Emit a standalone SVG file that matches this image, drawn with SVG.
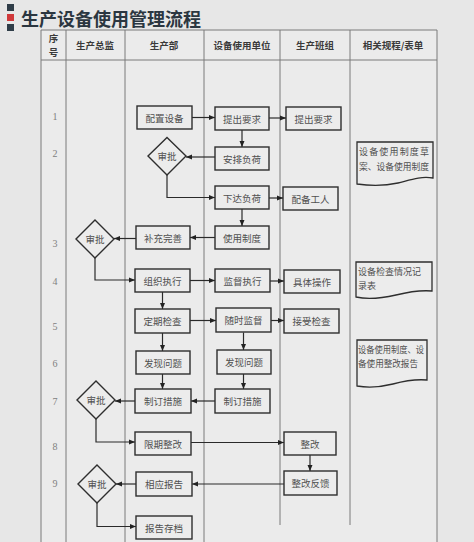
<svg xmlns="http://www.w3.org/2000/svg" width="474" height="542" viewBox="0 0 474 542">
<defs>
<marker id="ah" markerWidth="6" markerHeight="6" refX="6" refY="3" orient="auto" markerUnits="userSpaceOnUse">
<path d="M0,0.5 L6,3 L0,5.5 z" fill="#222"/>
</marker>
<style>
.box{fill:#ececec;stroke:#2e2e2e;stroke-width:1.4}
.dia{fill:#ececec;stroke:#2e2e2e;stroke-width:1.4}
.doc{fill:#ececec;stroke:#2e2e2e;stroke-width:1.3}
.t{font-family:"Noto Sans CJK SC","Noto Sans",sans-serif;font-size:9.5px;fill:#505050;text-anchor:middle;dominant-baseline:central}
.dt{font-family:"Noto Sans CJK SC","Noto Sans",sans-serif;font-size:9px;fill:#505050}
.h{font-family:"Noto Sans CJK SC","Noto Sans",sans-serif;font-size:9.5px;font-weight:bold;fill:#3a3a3a;text-anchor:middle;dominant-baseline:central}
.n{font-family:"Liberation Serif",serif;font-size:10px;fill:#808080;text-anchor:middle;dominant-baseline:central}
.grid{stroke:#7a7a7a;stroke-width:1;fill:none}
.c{fill:none;stroke:#2a2a2a;stroke-width:1.2;marker-end:url(#ah)}
</style>
</defs>
<rect x="0" y="0" width="474" height="542" fill="#e7e7e7"/>
<rect x="41" y="30" width="396" height="512" fill="#ebebeb"/>
<g id="title">
<rect x="7" y="4" width="7" height="7" fill="#2f3d48"/>
<rect x="7" y="14" width="7" height="7" fill="#d0393b"/>
<rect x="7" y="24" width="7" height="7" fill="#2f3d48"/>
<text x="21" y="18" font-family="'Noto Sans CJK SC','Noto Sans',sans-serif" font-size="18" font-weight="bold" fill="#2b3640" dominant-baseline="central">生产设备使用管理流程</text>
</g>
<g id="table" class="grid">
<line x1="41" y1="30" x2="437" y2="30"/>
<line x1="41" y1="60" x2="437" y2="60"/>
<line x1="41" y1="30" x2="41" y2="542"/>
<line x1="66" y1="30" x2="66" y2="542"/>
<line x1="125" y1="30" x2="125" y2="542"/>
<line x1="204" y1="30" x2="204" y2="542"/>
<line x1="280" y1="30" x2="280" y2="525"/>
<line x1="350" y1="30" x2="350" y2="525"/>
<line x1="437" y1="30" x2="437" y2="542"/>
</g>
<g id="header">
<text class="h" x="53.5" y="38">序</text>
<text class="h" x="53.5" y="52">号</text>
<text class="h" x="95" y="45">生产总监</text>
<text class="h" x="164" y="45">生产部</text>
<text class="h" x="242" y="45">设备使用单位</text>
<text class="h" x="315" y="45">生产班组</text>
<text class="h" x="393" y="45">相关规程/表单</text>
</g>
<g id="rownums">
<text class="n" x="55" y="116">1</text>
<text class="n" x="55" y="153">2</text>
<text class="n" x="55" y="243">3</text>
<text class="n" x="55" y="281">4</text>
<text class="n" x="55" y="326">5</text>
<text class="n" x="55" y="363">6</text>
<text class="n" x="55" y="401">7</text>
<text class="n" x="55" y="446">8</text>
<text class="n" x="55" y="483">9</text>
</g>
<g id="connectors">
<path class="c" d="M192,117.5 H215"/>
<path class="c" d="M269,118 H286"/>
<path class="c" d="M242,130 V147"/>
<path class="c" d="M215,157 H186"/>
<path class="c" d="M167,175 V197.5 H215"/>
<path class="c" d="M269,198 H283"/>
<path class="c" d="M242,209 V226"/>
<path class="c" d="M215,237.5 H190"/>
<path class="c" d="M136,238.5 H114"/>
<path class="c" d="M95,258 V280 H135"/>
<path class="c" d="M190,280.5 H215"/>
<path class="c" d="M270,281 H284"/>
<path class="c" d="M162.5,292 V309"/>
<path class="c" d="M190,320.5 H216"/>
<path class="c" d="M271,320.5 H284"/>
<path class="c" d="M162.5,333 V351"/>
<path class="c" d="M243.5,332.5 V350"/>
<path class="c" d="M162.5,374 V389"/>
<path class="c" d="M243.5,374 V389"/>
<path class="c" d="M215,401 H191"/>
<path class="c" d="M135,401 H115"/>
<path class="c" d="M96,419 V442 H135"/>
<path class="c" d="M191,442.5 H284"/>
<path class="c" d="M310,455 V471"/>
<path class="c" d="M284,484 H192"/>
<path class="c" d="M136,484 H116"/>
<path class="c" d="M97,503 V526.5 H136"/>
</g>
<g id="n_peizhi"><rect class="box" x="137" y="106" width="55" height="23"/><text class="t" x="164.5" y="117.5">配置设备</text></g>
<g id="n_tichu1"><rect class="box" x="215" y="107" width="54" height="23"/><text class="t" x="242" y="118.5">提出要求</text></g>
<g id="n_tichu2"><rect class="box" x="286" y="107" width="55" height="23"/><text class="t" x="313.5" y="118.5">提出要求</text></g>
<g id="n_anpai"><rect class="box" x="215" y="147" width="54" height="23"/><text class="t" x="242" y="158.5">安排负荷</text></g>
<g id="n_shenpi2"><path class="dia" d="M167,137.5 L186,156 L167,175 L148,156 Z"/><text class="t" x="167" y="156">审批</text></g>
<g id="n_xiada"><rect class="box" x="215" y="186" width="54" height="23"/><text class="t" x="242" y="197.5">下达负荷</text></g>
<g id="n_peibei"><rect class="box" x="283" y="187" width="55" height="23"/><text class="t" x="310.5" y="198.5">配备工人</text></g>
<g id="n_shiyong"><rect class="box" x="215" y="226" width="54" height="23"/><text class="t" x="242" y="237.5">使用制度</text></g>
<g id="n_buchong"><rect class="box" x="136" y="226" width="54" height="23"/><text class="t" x="163" y="237.5">补充完善</text></g>
<g id="n_shenpi3"><path class="dia" d="M95,220 L114,239 L95,258 L76,239 Z"/><text class="t" x="95" y="239">审批</text></g>
<g id="n_zuzhi"><rect class="box" x="135" y="269" width="55" height="23"/><text class="t" x="162.5" y="280.5">组织执行</text></g>
<g id="n_jiandu"><rect class="box" x="215" y="269" width="55" height="23"/><text class="t" x="242.5" y="280.5">监督执行</text></g>
<g id="n_juti"><rect class="box" x="284" y="270" width="56" height="23"/><text class="t" x="312" y="281.5">具体操作</text></g>
<g id="n_dingqi"><rect class="box" x="135" y="309" width="55" height="24"/><text class="t" x="162.5" y="321">定期检查</text></g>
<g id="n_suishi"><rect class="box" x="216" y="308" width="55" height="24"/><text class="t" x="243.5" y="320">随时监督</text></g>
<g id="n_jieshou"><rect class="box" x="284" y="309" width="55" height="24"/><text class="t" x="311.5" y="321">接受检查</text></g>
<g id="n_faxian1"><rect class="box" x="136" y="351" width="54" height="23"/><text class="t" x="163" y="362.5">发现问题</text></g>
<g id="n_faxian2"><rect class="box" x="217" y="350" width="54" height="24"/><text class="t" x="244" y="362">发现问题</text></g>
<g id="n_zhiding1"><rect class="box" x="135" y="389" width="56" height="24"/><text class="t" x="163" y="401">制订措施</text></g>
<g id="n_zhiding2"><rect class="box" x="215" y="389" width="55" height="24"/><text class="t" x="242.5" y="401">制订措施</text></g>
<g id="n_shenpi7"><path class="dia" d="M96,381 L115,400 L96,419 L77,400 Z"/><text class="t" x="96" y="400">审批</text></g>
<g id="n_xianqi"><rect class="box" x="135" y="432" width="56" height="23"/><text class="t" x="163" y="443.5">限期整改</text></g>
<g id="n_zhenggai"><rect class="box" x="284" y="432" width="52" height="23"/><text class="t" x="310" y="443.5">整改</text></g>
<g id="n_fankui"><rect class="box" x="284" y="471" width="53" height="24"/><text class="t" x="310.5" y="483">整改反馈</text></g>
<g id="n_xiangying"><rect class="box" x="136" y="472" width="56" height="24"/><text class="t" x="164" y="484">相应报告</text></g>
<g id="n_shenpi9"><path class="dia" d="M97,465 L116,484 L97,503 L78,484 Z"/><text class="t" x="97" y="484">审批</text></g>
<g id="n_cundang"><rect class="box" x="136" y="516" width="56" height="23"/><text class="t" x="164" y="527.5">报告存档</text></g>
<g id="doc1"><path class="doc" d="M357,142 H433 V178 C420,176 410,180 398,183 C385,186 370,186 357,184 Z"/>
<text class="dt" x="359" y="155" textLength="70" lengthAdjust="spacing">设备使用制度草</text>
<text class="dt" x="359" y="170" textLength="70" lengthAdjust="spacingAndGlyphs">案、设备使用制度</text></g>
<g id="doc2"><path class="doc" d="M356,262 H432 V291 C420,290 408,292 396,295 C383,298 369,300 356,297 Z"/>
<text class="dt" x="358" y="275">设备检查情况记</text>
<text class="dt" x="358" y="289">录表</text></g>
<g id="doc3"><path class="doc" d="M357,340 H427 V380 C415,379 404,381 393,384 C381,387 369,388 357,386 Z"/>
<text class="dt" x="358" y="353" textLength="66" lengthAdjust="spacingAndGlyphs">设备使用制度、设</text>
<text class="dt" x="358" y="367" textLength="60" lengthAdjust="spacingAndGlyphs">备使用整改报告</text></g>
</svg>
